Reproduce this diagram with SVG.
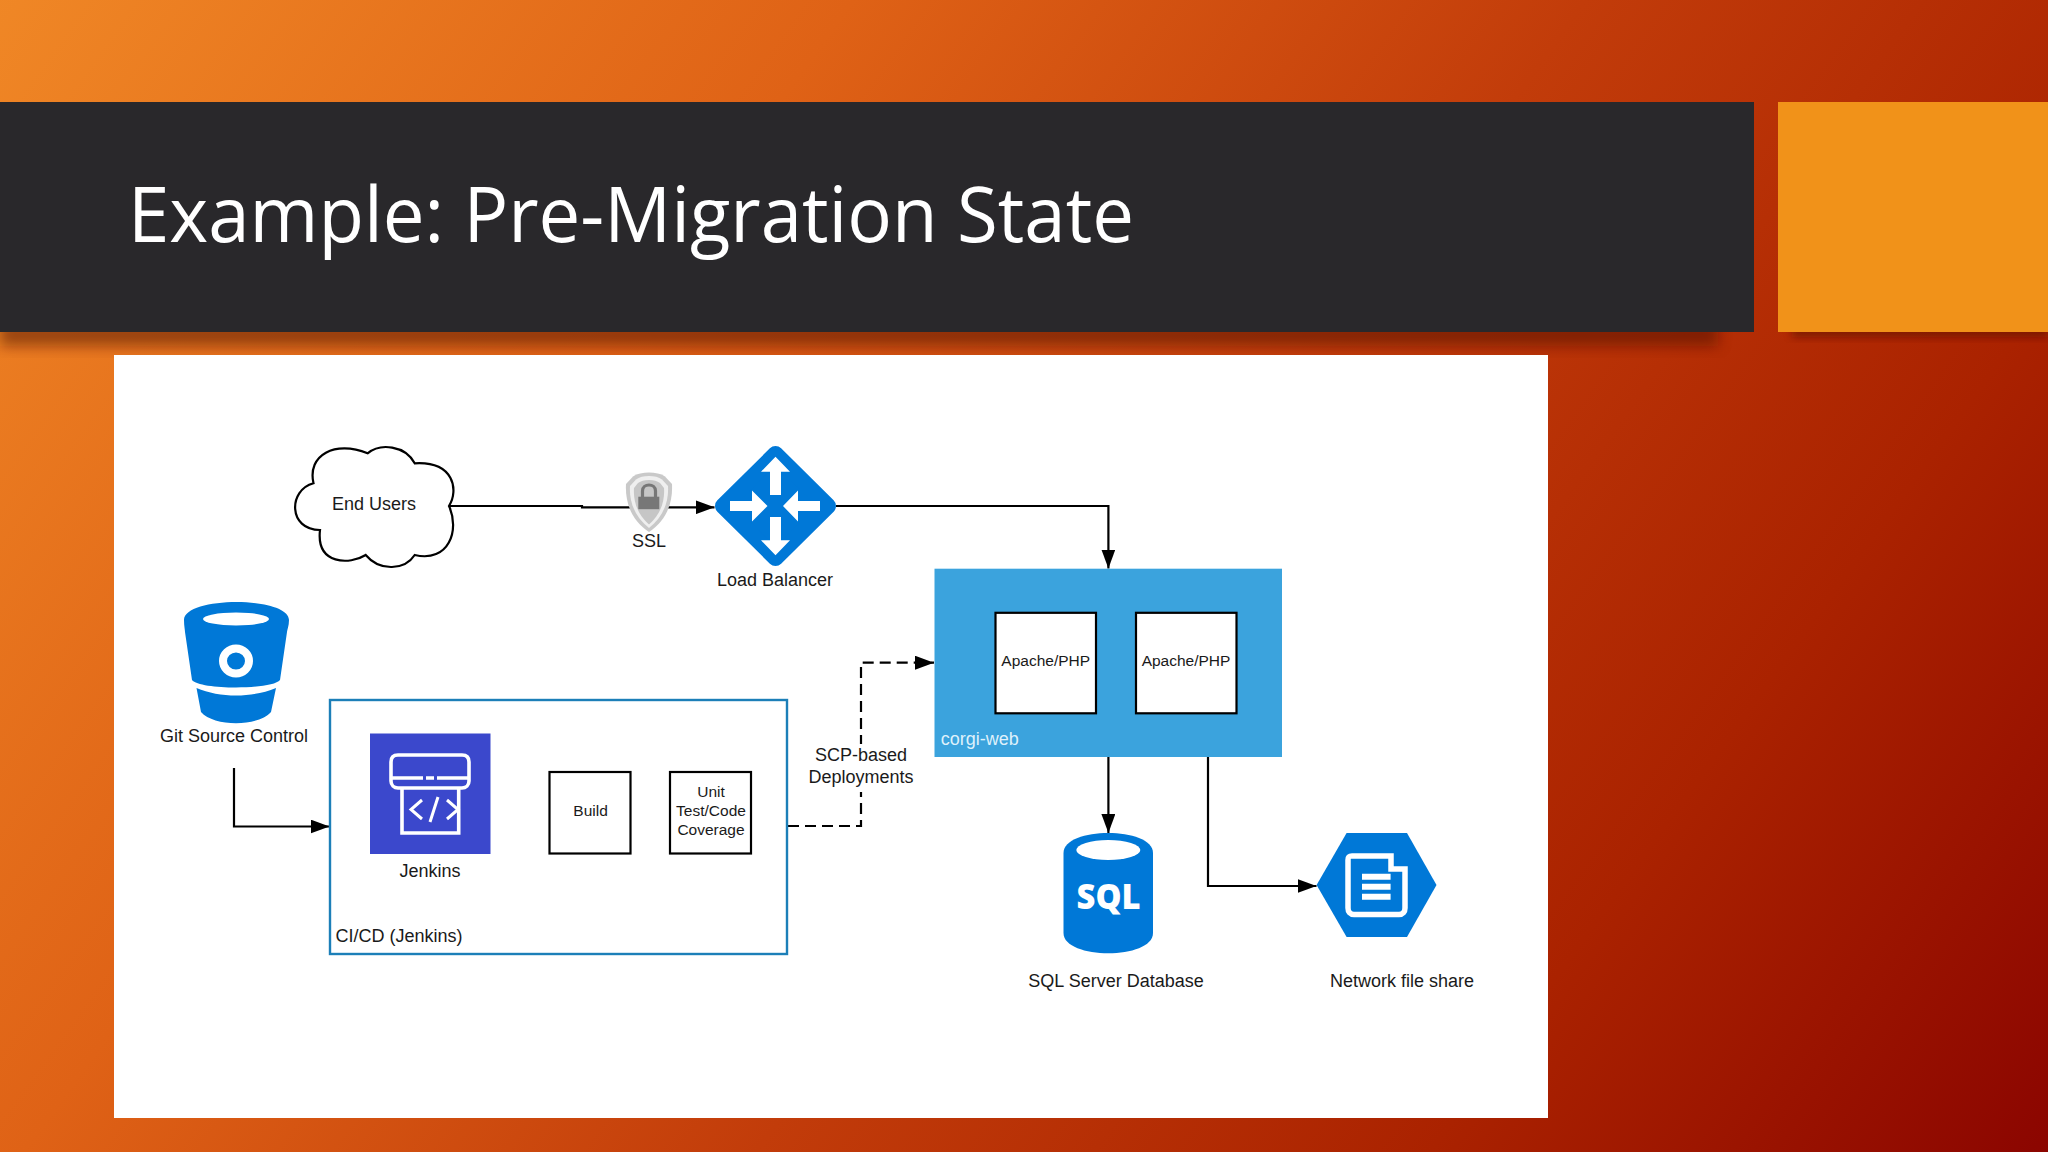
<svg xmlns="http://www.w3.org/2000/svg" width="2048" height="1152" viewBox="0 0 2048 1152">
<style>
.t{font-family:"Liberation Sans",Arial,sans-serif;font-size:18px;fill:#1a1a1a;text-anchor:middle}
.s{font-size:15.5px}
.b{fill:#0078d7}
.w{fill:#fff}
.box{fill:#fff;stroke:#000;stroke-width:2.2}
.c{fill:none;stroke:#000;stroke-width:2.2}
.ic{fill:none;stroke:#fff;stroke-width:3.6}
</style>
<defs>
<linearGradient id="bg" gradientUnits="userSpaceOnUse" x1="60" y1="-120" x2="1990" y2="1270">
<stop offset="0" stop-color="#f08826"/>
<stop offset=".3" stop-color="#df6216"/>
<stop offset=".55" stop-color="#c23c0a"/>
<stop offset=".78" stop-color="#aa2200"/>
<stop offset="1" stop-color="#8a0400"/>
</linearGradient>
<filter id="blur" x="-10%" y="-50%" width="120%" height="200%"><feGaussianBlur stdDeviation="7"/></filter>
<filter id="blur2" x="-10%" y="-50%" width="120%" height="200%"><feGaussianBlur stdDeviation="4"/></filter>
<marker id="a" markerUnits="userSpaceOnUse" markerWidth="20" markerHeight="14" refX="19" refY="7" orient="auto"><path d="M0 0L19 7L0 14Z"/></marker>
</defs>
<rect width="2048" height="1152" fill="url(#bg)"/>
<rect x="0" y="322" width="1718" height="24" fill="#4a1000" opacity=".5" filter="url(#blur)"/>
<rect x="1792" y="326" width="256" height="11" fill="#5a1000" opacity=".6" filter="url(#blur2)"/>
<rect x="0" y="102" width="1754" height="230" fill="#29282b"/>
<rect x="1778" y="102" width="270" height="230" fill="#f19219"/>
<text x="128" y="242" font-family="'Open Sans',sans-serif" font-size="77" fill="#fff" textLength="1006" lengthAdjust="spacingAndGlyphs">Example: Pre-Migration State</text>
<rect x="114" y="355" width="1434" height="763" fill="#fff"/>

<g id="connectors">
<path class="c" d="M449 506H582V507.300H714.500" marker-end="url(#a)"/>
<path class="c" d="M836 506H1108.400V568.500" marker-end="url(#a)"/>
<path class="c" d="M234 768V826.500H329.500" marker-end="url(#a)"/>
<path class="c" d="M788 826H861V662.700H934" stroke-dasharray="11 6" marker-end="url(#a)"/>
<path class="c" d="M1108.400 757V833" marker-end="url(#a)"/>
<path class="c" d="M1208 757V886H1316.500" marker-end="url(#a)"/>
</g>

<g id="end-users">
<path d="M449 506C459 490 454 461 414.700 463.300C405 445 380 443 367.600 453.300C335 440 307 455 313.500 483.300C288 490 288 530 320 530C316 565 350 565 365.700 555C380 572 405 570 414.700 555C449 563 460 530 449 506Z" fill="#fff" stroke="#000" stroke-width="2.200"/>
<text class="t" x="374" y="510">End Users</text>
</g>

<g id="ssl">
<path d="M649 472.500C655 472.500 661 473.500 665 476.500L672 484C673 502 667 520 649 532C631 520 625 502 626 484L633 476.500C637 473.500 643 472.500 649 472.500Z" fill="#c9c9c9"/>
<path d="M649 476C654 476 659 477 662 479.500L668 486C669 502 663 517 649 528C635 517 629 502 630 486L636 479.500C639 477 644 476 649 476Z" fill="#efefef"/>
<path d="M649 480C654 480 657 481 660 483L664 488C665 502 660 515 649 524.500C638 515 633 502 634 488L638 483C641 481 644 480 649 480Z" fill="#c6c6c6"/>
<rect x="638.300" y="496.700" width="21" height="12.500" fill="#777"/>
<path d="M642.500 497V491C642.500 483 655.500 483 655.500 491V497" fill="none" stroke="#777" stroke-width="3.200"/>
<text class="t" x="649" y="546.500">SSL</text>
</g>

<g id="load-balancer">
<path class="b" d="M775.500 454L828 506L775.500 558L723 506Z" stroke="#0078d7" stroke-width="16" stroke-linejoin="round"/>
<path class="w" d="M775.500 456.700L790 471.700H781V495H770V471.700H761Z"/>
<path class="w" d="M775.500 555.300L790 540.300H781V517H770V540.300H761Z"/>
<path class="w" d="M767.500 506L752 490.500V501H730V511H752V521.500Z"/>
<path class="w" d="M783 506L798 490.500V501H820V511H798V521.500Z"/>
<text class="t" x="775" y="585.700">Load Balancer</text>
</g>

<g id="corgi-web">
<rect x="934.500" y="568.700" width="347.500" height="188.300" fill="#3ba3dd"/>
<text class="t" x="940.700" y="744.500" style="text-anchor:start;fill:#dff1fb">corgi-web</text>
<rect class="box" x="995.500" y="612.800" width="100.500" height="100.500"/>
<text class="t s" x="1045.700" y="666">Apache/PHP</text>
<rect class="box" x="1136" y="612.800" width="100.500" height="100.500"/>
<text class="t s" x="1186" y="666">Apache/PHP</text>
</g>

<g id="git-source-control">
<path class="b" d="M184 620C184 596 289 596 289 620C289 626 287 630 287 632L280 680C272 690 200 690 192 680L185 632C185 630 184 626 184 620Z"/>
<path class="b" d="M196.500 688C220 698 252 698 276 688L271 712C258 727 214 727 201 712Z"/>
<ellipse class="w" cx="236" cy="619" rx="33" ry="6.500"/>
<ellipse cx="236" cy="661" rx="13" ry="12.500" fill="none" stroke="#fff" stroke-width="8"/>
<text class="t" x="234" y="741.700">Git Source Control</text>
</g>

<g id="cicd">
<rect x="330" y="700" width="457" height="254" fill="#fff" stroke="#1c7fb8" stroke-width="2.400"/>
<text class="t" x="335.500" y="941.700" style="text-anchor:start">CI/CD (Jenkins)</text>
<rect x="370" y="733.500" width="120.500" height="120.500" fill="#3b48cc"/>
<path class="ic" d="M402 788V833H458.700V788M398 788H462C466 788 469 785 469 781V762C469 757 466 755 462 755H398C394 755 391 757 391 762V781C391 785 394 788 398 788ZM391 778H423M426 778H434M437 778H469"/>
<path class="ic" style="stroke-width:3" d="M422 800L411 809.500L422 819M438 797L430 822M447 800L458 809.500L447 819"/>
<text class="t" x="430" y="877">Jenkins</text>
<rect class="box" x="549.500" y="772" width="81" height="81.500"/>
<text class="t s" x="590.600" y="816">Build</text>
<rect class="box" x="670" y="772" width="81" height="81.500"/>
<text class="t s" x="711" y="796.500">Unit</text>
<text class="t s" x="711" y="815.500">Test/Code</text>
<text class="t s" x="711" y="834.500">Coverage</text>
</g>

<g id="scp-label">
<rect x="800" y="744" width="120" height="48" fill="#fff"/>
<text class="t" x="861" y="761">SCP-based</text>
<text class="t" x="861" y="783">Deployments</text>
</g>

<g id="sql-database">
<path class="b" d="M1063.500 853C1063.500 826.400 1153 826.400 1153 853V933C1153 960 1063.500 960 1063.500 933Z"/>
<ellipse class="w" cx="1108.300" cy="850" rx="32" ry="10"/>
<text x="1108.500" y="909" font-family="'Open Sans','Noto Sans',sans-serif" font-weight="800" font-size="35" fill="#fff" text-anchor="middle" textLength="64" lengthAdjust="spacingAndGlyphs">SQL</text>
<text class="t" x="1116" y="987">SQL Server Database</text>
</g>

<g id="network-file-share">
<path class="b" d="M1316.600 885L1346.600 833H1407L1436.500 885L1407 937H1346.600Z"/>
<path class="ic" style="stroke-width:5.500" d="M1352 856H1391V869H1405V908C1405 912 1403 914.500 1399 914.500H1354C1350 914.500 1348 912 1348 908V860C1348 857 1349 856 1352 856Z"/>
<path class="ic" style="stroke-width:6" d="M1362 876.700H1390.600M1362 886.700H1390.600M1362 896.700H1390.600"/>
<text class="t" x="1402" y="987">Network file share</text>
</g>
</svg>
